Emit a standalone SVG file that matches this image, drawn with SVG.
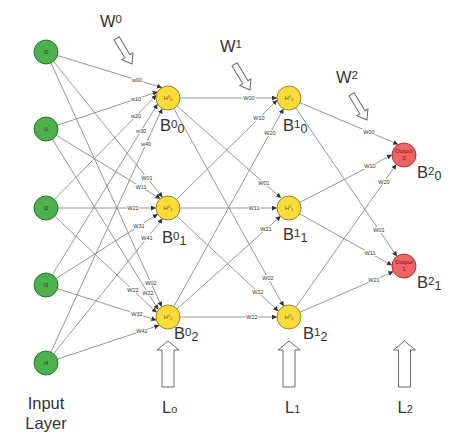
<svg xmlns="http://www.w3.org/2000/svg" width="474" height="447" viewBox="0 0 474 447">
<style>
.e{stroke:#8a8a8a;stroke-width:0.9;fill:none;marker-end:url(#ah)}
.lb{font-family:"Liberation Sans",Arial,sans-serif;font-size:5.5px;fill:#333;stroke:#fff;stroke-width:2;paint-order:stroke;text-anchor:middle;dominant-baseline:central}
.in{fill:#4cb04c;stroke:#2e7a2e;stroke-width:1}
.hd{fill:#f9db3a;stroke:#9c8520;stroke-width:1}
.out{fill:#ef6464;stroke:#a83636;stroke-width:1}
.nt{font-family:"Liberation Sans",Arial,sans-serif;font-size:6px;text-anchor:middle}
.big{font-family:"Liberation Sans",Arial,sans-serif;font-size:16.5px;fill:#333}
.ha{fill:#fff;stroke:#6a6a6a;stroke-width:1}
</style>
<defs>
<marker id="ah" markerWidth="6" markerHeight="6" refX="5" refY="2.5" orient="auto" markerUnits="userSpaceOnUse"><path d="M0,0 L5,2.5 L0,5 Z" fill="#333"/></marker>
<path id="darrow" d="M-3,-30 L3,-30 L3,-9 L6.5,-9 L0,0 L-6.5,-9 L-3,-9 Z"/>
<path id="uarrow" d="M0,0 L11,9 L6,9 L6,46 L-6,46 L-6,9 L-11,9 Z"/>
</defs>

<g id="connectors">
<line class="e" x1="46" y1="52" x2="162" y2="87.6"/>
<line class="e" x1="46" y1="129" x2="157.7" y2="91.8"/>
<line class="e" x1="46" y1="208" x2="156.5" y2="95"/>
<line class="e" x1="46" y1="285" x2="157.6" y2="104"/>
<line class="e" x1="46" y1="363" x2="162.2" y2="108.5"/>

<line class="e" x1="46" y1="52" x2="162.5" y2="197.3"/>
<line class="e" x1="46" y1="129" x2="160.3" y2="198.8"/>
<line class="e" x1="46" y1="208" x2="156" y2="208"/>
<line class="e" x1="46" y1="285" x2="157.7" y2="214.1"/>
<line class="e" x1="46" y1="363" x2="162.6" y2="218.7"/>

<line class="e" x1="46" y1="52" x2="161.8" y2="306.8"/>
<line class="e" x1="46" y1="129" x2="158.4" y2="309.7"/>
<line class="e" x1="46" y1="208" x2="156.8" y2="312.5"/>
<line class="e" x1="46" y1="285" x2="156.4" y2="320.2"/>
<line class="e" x1="46" y1="363" x2="159.3" y2="325.2"/>

<line class="e" x1="168" y1="98" x2="277" y2="98"/>
<line class="e" x1="168" y1="208" x2="277.2" y2="100"/>
<line class="e" x1="168" y1="317" x2="283.5" y2="108.7"/>
<line class="e" x1="168" y1="98" x2="281" y2="198"/>
<line class="e" x1="168" y1="208" x2="277" y2="208"/>
<line class="e" x1="168" y1="317" x2="280.8" y2="216"/>
<line class="e" x1="168" y1="98" x2="283.7" y2="306.3"/>
<line class="e" x1="168" y1="208" x2="278.5" y2="311.2"/>
<line class="e" x1="168" y1="317" x2="277" y2="317"/>

<line class="e" x1="289" y1="98" x2="398.2" y2="144.4"/>
<line class="e" x1="289" y1="208" x2="392" y2="154.8"/>
<line class="e" x1="289" y1="317" x2="396.4" y2="164.3"/>
<line class="e" x1="289" y1="98" x2="397" y2="256.4"/>
<line class="e" x1="289" y1="208" x2="392" y2="265.3"/>
<line class="e" x1="289" y1="317" x2="393.4" y2="271.6"/>
</g>

<g id="edge-labels">
<text class="lb" x="137" y="80">w00</text>
<text class="lb" x="136" y="99">w10</text>
<text class="lb" x="136" y="116">w20</text>
<text class="lb" x="141" y="131">w30</text>
<text class="lb" x="146" y="144">w40</text>

<text class="lb" x="147" y="178">W01</text>
<text class="lb" x="141" y="187">W11</text>
<text class="lb" x="133" y="208">W21</text>
<text class="lb" x="139" y="226">W31</text>
<text class="lb" x="147" y="238">W41</text>

<text class="lb" x="151" y="283">W02</text>
<text class="lb" x="133" y="290">W22</text>
<text class="lb" x="148" y="293">W22</text>
<text class="lb" x="137" y="314">W32</text>
<text class="lb" x="142" y="331">W42</text>

<text class="lb" x="249" y="98">W00</text>
<text class="lb" x="259" y="118">W10</text>
<text class="lb" x="270" y="133">W20</text>
<text class="lb" x="264" y="183">W01</text>
<text class="lb" x="254" y="208">W11</text>
<text class="lb" x="266" y="229">W21</text>
<text class="lb" x="268" y="278">W02</text>
<text class="lb" x="258" y="292">W12</text>
<text class="lb" x="252" y="317">W22</text>

<text class="lb" x="369" y="132">W00</text>
<text class="lb" x="370" y="166">W10</text>
<text class="lb" x="384" y="182">W20</text>
<text class="lb" x="379" y="230">W01</text>
<text class="lb" x="370" y="253">W11</text>
<text class="lb" x="374" y="280">W21</text>
</g>

<g id="i0"><circle class="in" cx="46" cy="52" r="12"/><text class="nt" x="46" y="54" fill="#1d4a1d">i0</text></g>
<g id="i1"><circle class="in" cx="46" cy="129" r="12"/><text class="nt" x="46" y="131" fill="#1d4a1d">i1</text></g>
<g id="i2"><circle class="in" cx="46" cy="208" r="12"/><text class="nt" x="46" y="210" fill="#1d4a1d">i2</text></g>
<g id="i3"><circle class="in" cx="46" cy="285" r="12"/><text class="nt" x="46" y="287" fill="#1d4a1d">i3</text></g>
<g id="i4"><circle class="in" cx="46" cy="363" r="12"/><text class="nt" x="46" y="365" fill="#1d4a1d">i4</text></g>

<g id="h0_0"><circle class="hd" cx="168" cy="98" r="12"/><text class="nt" x="168" y="100" fill="#6b5a10">H<tspan font-size="4" dy="-2">0</tspan><tspan font-size="4" dy="3">0</tspan></text></g>
<g id="h0_1"><circle class="hd" cx="168" cy="208" r="12"/><text class="nt" x="168" y="210" fill="#6b5a10">H<tspan font-size="4" dy="-2">0</tspan><tspan font-size="4" dy="3">1</tspan></text></g>
<g id="h0_2"><circle class="hd" cx="168" cy="317" r="12"/><text class="nt" x="168" y="319" fill="#6b5a10">H<tspan font-size="4" dy="-2">0</tspan><tspan font-size="4" dy="3">2</tspan></text></g>

<g id="h1_0"><circle class="hd" cx="289" cy="98" r="12"/><text class="nt" x="289" y="100" fill="#6b5a10">H<tspan font-size="4" dy="-2">1</tspan><tspan font-size="4" dy="3">0</tspan></text></g>
<g id="h1_1"><circle class="hd" cx="289" cy="208" r="12"/><text class="nt" x="289" y="210" fill="#6b5a10">H<tspan font-size="4" dy="-2">1</tspan><tspan font-size="4" dy="3">1</tspan></text></g>
<g id="h1_2"><circle class="hd" cx="289" cy="317" r="12"/><text class="nt" x="289" y="319" fill="#6b5a10">H<tspan font-size="4" dy="-2">1</tspan><tspan font-size="4" dy="3">2</tspan></text></g>

<g id="output0"><circle class="out" cx="404" cy="155" r="12"/><text class="nt" x="404" y="153" font-size="6.5" fill="#7a1414">Output</text><text class="nt" x="404" y="160" font-size="6.5" fill="#7a1414">0</text></g>
<g id="output1"><circle class="out" cx="404" cy="266" r="12"/><text class="nt" x="404" y="264" font-size="6.5" fill="#7a1414">Output</text><text class="nt" x="404" y="271" font-size="6.5" fill="#7a1414">1</text></g>

<g id="bias-labels">
<text class="big" x="160" y="131">B<tspan font-size="11.5" dy="-3">0</tspan><tspan font-size="12.5" dy="5">0</tspan></text>
<text class="big" x="162" y="243">B<tspan font-size="11.5" dy="-3">0</tspan><tspan font-size="12.5" dy="5">1</tspan></text>
<text class="big" x="174" y="339">B<tspan font-size="11.5" dy="-3">0</tspan><tspan font-size="12.5" dy="5">2</tspan></text>
<text class="big" x="283" y="131">B<tspan font-size="11.5" dy="-3">1</tspan><tspan font-size="12.5" dy="5">0</tspan></text>
<text class="big" x="283" y="240">B<tspan font-size="11.5" dy="-3">1</tspan><tspan font-size="12.5" dy="5">1</tspan></text>
<text class="big" x="303" y="339">B<tspan font-size="11.5" dy="-3">1</tspan><tspan font-size="12.5" dy="5">2</tspan></text>
<text class="big" x="417" y="178">B<tspan font-size="11.5" dy="-3">2</tspan><tspan font-size="12.5" dy="5">0</tspan></text>
<text class="big" x="417" y="288">B<tspan font-size="11.5" dy="-3">2</tspan><tspan font-size="12.5" dy="5">1</tspan></text>
</g>

<g id="weight-labels">
<text class="big" x="100" y="27">W<tspan font-size="11.5" dy="-4">0</tspan></text>
<use href="#darrow" class="ha" transform="translate(132,64) rotate(-31)"/>
<text class="big" x="220" y="52">W<tspan font-size="11.5" dy="-4">1</tspan></text>
<use href="#darrow" class="ha" transform="translate(250,90) rotate(-31)"/>
<text class="big" x="336" y="83">W<tspan font-size="11.5" dy="-4">2</tspan></text>
<use href="#darrow" class="ha" transform="translate(367,120) rotate(-31)"/>
</g>

<g id="layer-labels">
<use href="#uarrow" class="ha" transform="translate(168,341)"/>
<use href="#uarrow" class="ha" transform="translate(289,341)"/>
<use href="#uarrow" class="ha" transform="translate(404.5,341)"/>
<text class="big" x="162" y="413" font-size="15">L<tspan font-size="11">o</tspan></text>
<text class="big" x="285" y="413" font-size="15">L<tspan font-size="11">1</tspan></text>
<text class="big" x="397.5" y="413" font-size="15">L<tspan font-size="11">2</tspan></text>
<text class="big" x="46" y="409" text-anchor="middle">Input</text>
<text class="big" x="46" y="429" text-anchor="middle">Layer</text>
</g>
</svg>
